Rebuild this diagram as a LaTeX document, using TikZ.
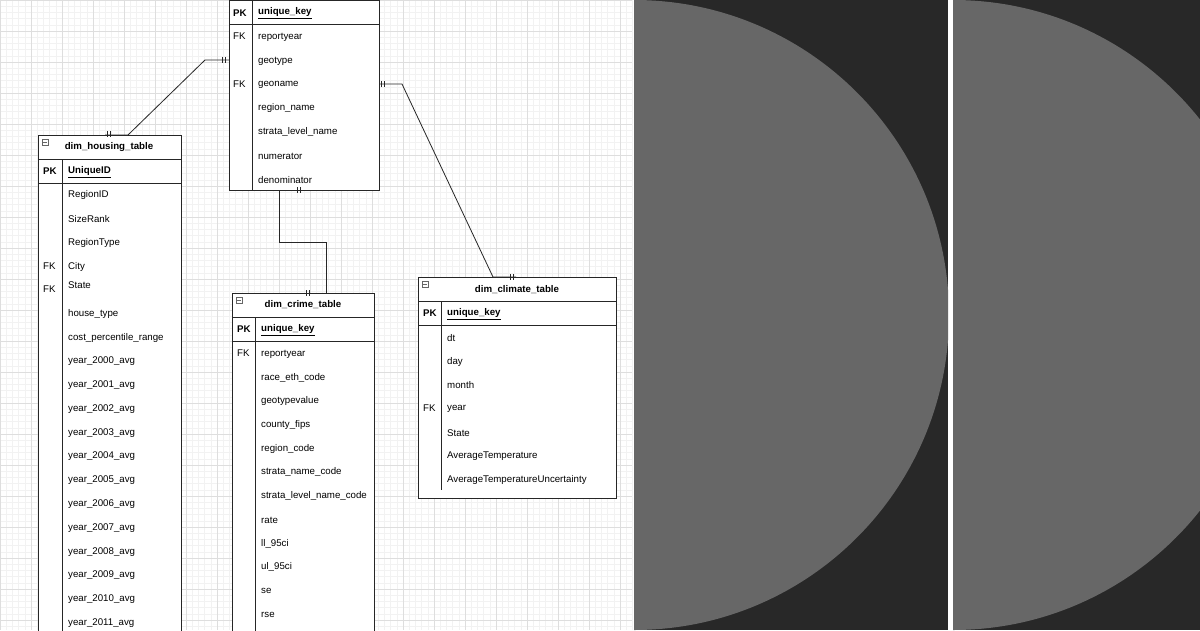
\documentclass[tikz,border=0pt]{standalone}
\usepackage{fontspec}
\setmainfont{Liberation Sans}
\usetikzlibrary{calc}
\definecolor{minorg}{HTML}{F2F2F2}
\definecolor{majorg}{HTML}{DEDEDE}
\definecolor{darkbg}{HTML}{282828}
\definecolor{disc}{HTML}{676767}
\tikzset{
  tbl/.style={draw=black!85, line width=0.9pt, anchor=north west, inner sep=0pt},
  rowtxt/.style={anchor=west, inner sep=0pt, font=\fontsize{9.7}{12}\selectfont},
  keytxt/.style={anchor=west, inner sep=0pt, font=\fontsize{9.7}{12}\selectfont},
  ttl/.style={inner sep=0pt, font=\bfseries\fontsize{9.7}{12}\selectfont},
  conn/.style={draw=black!85, line width=0.8pt},
  tick/.style={draw=black!85, line width=0.7pt},
  minus/.style={draw=black!60, line width=0.4pt, minimum size=6pt, inner sep=0pt, fill=white}
}
\begin{document}
\begin{tikzpicture}[x=1pt,y=-1pt]
\useasboundingbox (0,0) rectangle (1200,630);
\fill[white] (0,0) rectangle (634,630);
\foreach \k in {0,...,102} {
  \draw[minorg, line width=0.4pt] (\k*6.2,0) -- (\k*6.2,630);
  \draw[minorg, line width=0.4pt] (0,\k*6.2) -- (632,\k*6.2);
}
\foreach \k in {0,...,20} {
  \draw[majorg, line width=0.6pt] (\k*31,0) -- (\k*31,630);
  \draw[majorg, line width=0.6pt] (0,\k*31) -- (632,\k*31);
}
% right panels
\fill[darkbg] (634,0) rectangle (1200,630);
\fill[white] (948,0) rectangle (953,630);
\begin{scope}
\clip (634,0) rectangle (948,630);
\fill[disc] (634,315) circle (315);
\end{scope}
\begin{scope}
\clip (953,0) rectangle (1200,630);
\fill[disc] (953,315) circle (315);
\end{scope}

% ---------- fact table
\node[tbl, minimum width=150, minimum height=190, fill=white] (fact) at (229,0) {};
\draw[black!85, line width=0.9pt] (229,24) -- (379,24);
\draw[black!85, line width=0.9pt] (252,0) -- (252,190);
\node[keytxt, font=\bfseries\fontsize{9.7}{12}\selectfont] (fpk) at (233,13) {PK};
\node[rowtxt, font=\bfseries\fontsize{9.7}{12}\selectfont] (fkey) at (258,13) {\underline{unique\_key}};
\foreach \t/\yy [count=\i] in {reportyear/37,geotype/61,geoname/85,region\_name/108,strata\_level\_name/132,numerator/156,denominator/180}
  \node[rowtxt] (fr\i) at (258,\yy) {\t};
\node[keytxt] (ffk1) at (233,36) {FK};
\node[keytxt] (ffk2) at (233,84) {FK};

% ---------- housing table
\node[tbl, minimum width=143, minimum height=520, fill=white] (hous) at (38,135) {};
\draw[black!85, line width=0.9pt] (38,159) -- (181,159) (38,183) -- (181,183) (62,159) -- (62,655);
\node[minus] (hm) at (45,142) {}; \draw[black!60,line width=0.5pt] (43,142)--(47,142);
\node[ttl] (htitle) at (109,147) {dim\_housing\_table};
\node[keytxt, font=\bfseries\fontsize{9.7}{12}\selectfont] (hpk) at (43,171) {PK};
\node[rowtxt, font=\bfseries\fontsize{9.7}{12}\selectfont] (hkey) at (68,172) {\underline{UniqueID}};
\foreach \t/\yy [count=\i] in {RegionID/195,SizeRank/219,RegionType/243,City/267,State/285,house\_type/314,cost\_percentile\_range/338,year\_2000\_avg/361,year\_2001\_avg/385,year\_2002\_avg/409,year\_2003\_avg/433,year\_2004\_avg/456,year\_2005\_avg/480,year\_2006\_avg/504,year\_2007\_avg/528,year\_2008\_avg/552,year\_2009\_avg/575,year\_2010\_avg/599,year\_2011\_avg/623}
  \node[rowtxt] (hr\i) at (68,\yy) {\t};
\node[keytxt] (hfk1) at (43,266) {FK};
\node[keytxt] (hfk2) at (43,289) {FK};

% ---------- crime table
\node[tbl, minimum width=142, minimum height=360, fill=white] (crime) at (232,293) {};
\draw[black!85, line width=0.9pt] (232,317) -- (374,317) (232,341) -- (374,341) (255,317) -- (255,655);
\node[minus] (cm) at (239,300) {}; \draw[black!60,line width=0.5pt] (237,300)--(241,300);
\node[ttl] (ctitle) at (303,305) {dim\_crime\_table};
\node[keytxt, font=\bfseries\fontsize{9.7}{12}\selectfont] (cpk) at (237,329) {PK};
\node[rowtxt, font=\bfseries\fontsize{9.7}{12}\selectfont] (ckey) at (261,330) {\underline{unique\_key}};
\foreach \t/\yy [count=\i] in {reportyear/354,race\_eth\_code/378,geotypevalue/401,county\_fips/425,region\_code/449,strata\_name\_code/472,strata\_level\_name\_code/496,rate/520,ll\_95ci/544,ul\_95ci/567,se/591,rse/615}
  \node[rowtxt] (cr\i) at (261,\yy) {\t};
\node[keytxt] (cfk1) at (237,353) {FK};

% ---------- climate table
\node[tbl, minimum width=198, minimum height=221, fill=white] (clim) at (418,277) {};
\draw[black!85, line width=0.9pt] (418,301) -- (616,301) (418,325) -- (616,325) (441,301) -- (441,490);
\node[minus] (km) at (425,284) {}; \draw[black!60,line width=0.5pt] (423,284)--(427,284);
\node[ttl] (ktitle) at (517,290) {dim\_climate\_table};
\node[keytxt, font=\bfseries\fontsize{9.7}{12}\selectfont] (kpk) at (423,313) {PK};
\node[rowtxt, font=\bfseries\fontsize{9.7}{12}\selectfont] (kkey) at (447,314) {\underline{unique\_key}};
\foreach \t/\yy [count=\i] in {dt/338,day/362,month/385,year/409,State/433,AverageTemperature/456,AverageTemperatureUncertainty/480}
  \node[rowtxt] (kr\i) at (447,\yy) {\t};
\node[keytxt] (kfk1) at (423,408) {FK};

% ---------- connectors
\coordinate (c1a) at (105,135);
\coordinate (c1b) at (128,135);
\coordinate (c1c) at (205,60);
\coordinate (c1d) at (229,60);
\draw[conn] (c1a) -- (c1b) -- (c1c) -- (c1d);
\draw[tick] (107,131)--(107,137) (110,131)--(110,137) (222,57)--(222,63) (225,57)--(225,63);

\coordinate (c2a) at (379,84);
\coordinate (c2b) at (402,84);
\coordinate (c2c) at (493,277);
\coordinate (c2d) at (516,277);
\draw[conn] (c2a) -- (c2b) -- (c2c) -- (c2d);
\draw[tick] (381,81)--(381,87) (384,81)--(384,87) (510,274)--(510,280) (513,274)--(513,280);

\coordinate (c3a) at (300,190);
\coordinate (c3b) at (279,190);
\coordinate (c3c) at (279,242);
\coordinate (c3d) at (326,242);
\coordinate (c3e) at (326,293);
\coordinate (c3f) at (305,293);
\draw[conn] (c3a) -- (c3b) -- (c3c) -- (c3d) -- (c3e) -- (c3f);
\draw[tick] (297,187)--(297,193) (300,187)--(300,193) (306,290)--(306,296) (309,290)--(309,296);
\end{tikzpicture}
\end{document}
